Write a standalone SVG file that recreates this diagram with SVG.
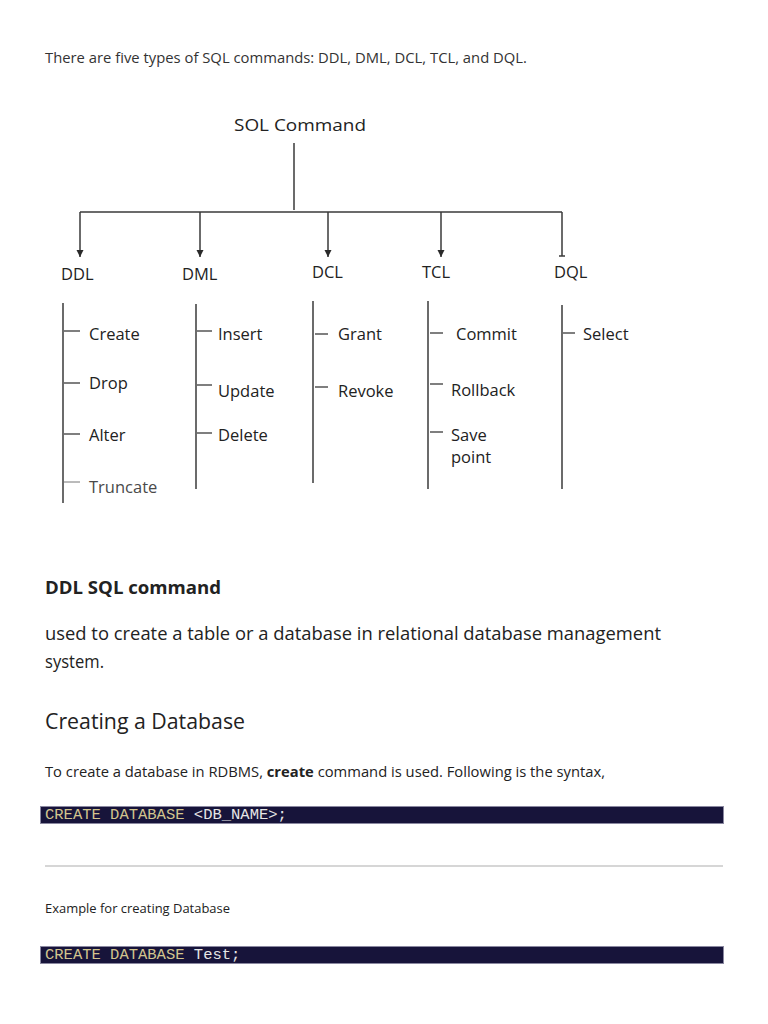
<svg xmlns="http://www.w3.org/2000/svg" width="768" height="1024" viewBox="0 0 768 1024">
<style>
.p{font-family:"Open Sans","Noto Sans",sans-serif;fill:#333}
.d{font-family:"Open Sans","Noto Sans",sans-serif;fill:#222;font-size:16.5px}
.ln{stroke:#3a3a3a;stroke-width:1.5;fill:none}
.tk{stroke:#3a3a3a;stroke-width:1.3;fill:none}
.code{font-family:"Liberation Mono","Courier New",monospace;font-size:15.5px}
.kw{fill:#d2c58e}
.tx{fill:#e6e6e6}
.bar{fill:#17143a;stroke:#8a88a0;stroke-width:1}
</style>
<defs>
<marker id="ah" markerWidth="8" markerHeight="8" refX="7" refY="4" orient="auto" markerUnits="userSpaceOnUse">
<path d="M0,0.5 L7,4 L0,7.5 Z" fill="#2a2a2a"/>
</marker>
</defs>
<rect width="768" height="1024" fill="#ffffff"/>

<text class="p" x="45" y="63" font-size="14" textLength="482" lengthAdjust="spacingAndGlyphs">There are five types of SQL commands: DDL, DML, DCL, TCL, and DQL.</text>

<g id="connectors">
<line class="ln" x1="294" y1="143" x2="294" y2="210"/>
<line class="ln" x1="80" y1="212" x2="562" y2="212"/>
<line class="ln" x1="80" y1="212" x2="80" y2="257" marker-end="url(#ah)"/>
<line class="ln" x1="200" y1="212" x2="200" y2="257" marker-end="url(#ah)"/>
<line class="ln" x1="328" y1="212" x2="328" y2="257" marker-end="url(#ah)"/>
<line class="ln" x1="441" y1="212" x2="441" y2="257" marker-end="url(#ah)"/>
<line class="ln" x1="562" y1="212" x2="562" y2="256"/>
<line class="ln" x1="559" y1="256" x2="565" y2="256"/>
</g>

<g id="root"><text class="d" x="234" y="131" font-size="19" textLength="132" lengthAdjust="spacingAndGlyphs">SOL Command</text></g>

<g id="ddl">
<text class="d" x="61" y="280">DDL</text>
<line class="ln" x1="63" y1="303" x2="63" y2="503"/>
<line class="tk" x1="64" y1="331" x2="80" y2="331"/>
<text class="d" x="89" y="340">Create</text>
<line class="tk" x1="64" y1="383" x2="80" y2="383"/>
<text class="d" x="89" y="389">Drop</text>
<line class="tk" x1="64" y1="434" x2="80" y2="434"/>
<text class="d" x="89" y="441">Alter</text>
<line x1="64" y1="482" x2="80" y2="482" stroke="#777" stroke-width="1"/>
<text class="d" x="89" y="493" style="fill:#4a4a4a">Truncate</text>
</g>

<g id="dml">
<text class="d" x="182" y="280">DML</text>
<line class="ln" x1="196" y1="304" x2="196" y2="489"/>
<line class="tk" x1="197" y1="331" x2="212" y2="331"/>
<text class="d" x="218" y="340">Insert</text>
<line class="tk" x1="197" y1="385" x2="212" y2="385"/>
<text class="d" x="218" y="397">Update</text>
<line class="tk" x1="197" y1="433" x2="212" y2="433"/>
<text class="d" x="218" y="441">Delete</text>
</g>

<g id="dcl">
<text class="d" x="312" y="278">DCL</text>
<line class="ln" x1="313" y1="301" x2="313" y2="483"/>
<line class="tk" x1="315" y1="334" x2="328" y2="334"/>
<text class="d" x="338" y="340">Grant</text>
<line class="tk" x1="315" y1="387" x2="328" y2="387"/>
<text class="d" x="338" y="397">Revoke</text>
</g>

<g id="tcl">
<text class="d" x="422" y="278">TCL</text>
<line class="ln" x1="428" y1="301" x2="428" y2="489"/>
<line class="tk" x1="430" y1="333" x2="443" y2="333"/>
<text class="d" x="456" y="340">Commit</text>
<line class="tk" x1="430" y1="384" x2="443" y2="384"/>
<text class="d" x="451" y="396">Rollback</text>
<line class="tk" x1="430" y1="432" x2="443" y2="432"/>
<text class="d" x="451" y="441">Save</text>
<text class="d" x="451" y="463">point</text>
</g>

<g id="dql">
<text class="d" x="554" y="278">DQL</text>
<line class="ln" x1="562" y1="305" x2="562" y2="489"/>
<line class="tk" x1="563" y1="333" x2="575" y2="333"/>
<text class="d" x="583" y="340">Select</text>
</g>

<text class="p" x="45" y="594" font-size="18" font-weight="bold" style="fill:#222" textLength="176" lengthAdjust="spacingAndGlyphs">DDL SQL command</text>
<text class="p" x="45" y="640" font-size="19" style="fill:#222" textLength="616" lengthAdjust="spacingAndGlyphs">used to create a table or a database in relational database management</text>
<text class="p" x="45" y="668" font-size="19" style="fill:#222" textLength="59" lengthAdjust="spacingAndGlyphs">system.</text>
<text class="p" x="45" y="729" font-size="22" style="fill:#222" textLength="200" lengthAdjust="spacingAndGlyphs">Creating a Database</text>
<text class="p" x="45" y="777" font-size="14" style="fill:#222" textLength="560" lengthAdjust="spacingAndGlyphs">To create a database in RDBMS, <tspan font-weight="bold">create</tspan> command is used. Following is the syntax,</text>

<rect class="bar" x="40.5" y="806.5" width="683" height="17"/>
<text class="code" x="45" y="819"><tspan class="kw">CREATE DATABASE</tspan><tspan class="tx"> &lt;DB_NAME&gt;;</tspan></text>

<line x1="45" y1="866" x2="723" y2="866" stroke="#c8c8c8" stroke-width="1.5"/>

<text class="p" x="45" y="913" font-size="12.5" style="fill:#222" textLength="185" lengthAdjust="spacingAndGlyphs">Example for creating Database</text>

<rect class="bar" x="40.5" y="946.5" width="683" height="17"/>
<text class="code" x="45" y="959"><tspan class="kw">CREATE DATABASE</tspan><tspan class="tx"> Test;</tspan></text>
</svg>
